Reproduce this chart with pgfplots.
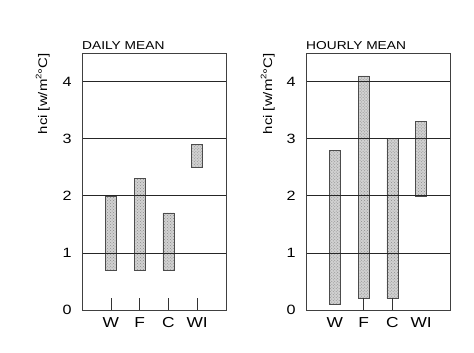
\documentclass[border=0pt]{standalone}
\usepackage{fontspec}
\setmainfont[FakeStretch=1.2]{Liberation Sans}
\usepackage{pgfplots}
\pgfplotsset{compat=1.18}
\usetikzlibrary{patterns}
\definecolor{barfill}{gray}{0.82}
\pgfplotsset{
  panel/.style={
    scale only axis, width=144bp, height=257bp,
    xmin=0, xmax=5, ymin=0, ymax=4.5,
    ytick={0,1,2,3,4},
    ymajorgrids, grid style={black!85, line width=0.7pt},
    axis line style={black!75, line width=0.6pt},
    axis on top,
    ybar stacked, bar width=11bp,
    /pgf/number format/assume math mode=true,
    yticklabel style={font=\fontsize{13.5}{15}\selectfont, xshift=-7bp},
    xticklabel style={font=\fontsize{14.5}{16}\selectfont, yshift=-4bp},
    ytick style={draw=none},
    xtick pos=bottom, xtick align=inside,
    xtick style={black!80, line width=0.6pt},
    major tick length=12bp,
  },
  lowbar/.style={draw=none, fill=none, forget plot},
  highbar/.style={fill=barfill, draw=black!70, line width=0.5pt, postaction={pattern=crosshatch dots, pattern color=black!45}},
}
\begin{document}
\begin{tikzpicture}
\useasboundingbox (0,0) rectangle (474bp,353bp);
% left panel
\begin{axis}[panel, name=L, at={(82bp,43bp)}, anchor=south west,
  xtick={1,2,3,4}, xticklabels={W,F,C,WI}]
\addplot[lowbar] coordinates {(1,0.7) (2,0.7) (3,0.7) (4,2.5)};
\addplot[highbar] coordinates {(1,1.3) (2,1.6) (3,1.0) (4,0.4)};
\end{axis}
% right panel
\begin{axis}[panel, name=R, at={(306bp,43bp)}, anchor=south west,
  xtick={2,3}, xticklabels={F,C},
  extra x ticks={1,4}, extra x tick labels={W,WI},
  extra x tick style={major tick length=0pt, grid=none}]
\addplot[lowbar] coordinates {(1,0.1) (2,0.2) (3,0.2) (4,2.0)};
\addplot[highbar] coordinates {(1,2.7) (2,3.9) (3,2.8) (4,1.3)};
\end{axis}
\node[rotate=90, anchor=south east, inner sep=0pt, font=\fontsize{12.5}{14}\selectfont] at ([xshift=-32bp]L.north west) {hci [w/m\raisebox{0.9ex}{\fontsize{8}{9}\selectfont 2}°C]};
\node[anchor=south west, inner sep=0pt, font=\fontsize{11.5}{13}\selectfont] at ([yshift=3bp]L.north west) {DAILY MEAN};
\node[rotate=90, anchor=south east, inner sep=0pt, font=\fontsize{12.5}{14}\selectfont] at ([xshift=-31bp]R.north west) {hci [w/m\raisebox{0.9ex}{\fontsize{8}{9}\selectfont 2}°C]};
\node[anchor=south west, inner sep=0pt, font=\fontsize{11.5}{13}\selectfont] at ([yshift=3bp]R.north west) {HOURLY MEAN};
\end{tikzpicture}
\end{document}
